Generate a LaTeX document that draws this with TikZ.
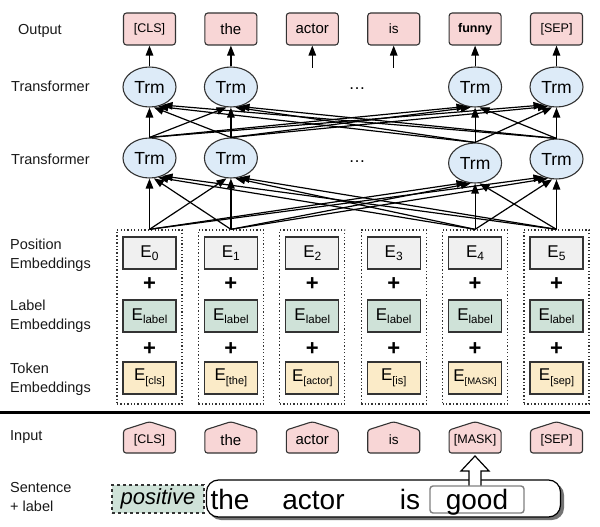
\documentclass[tikz,border=0pt]{standalone}
\usepackage{fontspec}
\setmainfont{Liberation Sans}
\usetikzlibrary{arrows.meta,shapes.geometric,calc}
\definecolor{pinkf}{HTML}{F8D6D6}
\definecolor{trmf}{HTML}{DDEBF8}
\definecolor{posf}{HTML}{F0F0F0}
\definecolor{labf}{HTML}{CFE2D8}
\definecolor{tokf}{HTML}{FBEBC8}
\definecolor{bordc}{HTML}{333333}
\newcommand{\fsz}[2]{\fontsize{#1}{#2}\selectfont}
\newcommand{\Esb}[2]{{\fsz{17}{20}E}\raisebox{-3.5pt}{\fsz{#1}{#1}#2}}
\begin{document}
\begin{tikzpicture}[x=1pt,y=-1pt,
  lbl/.style={anchor=west,inner sep=0pt,align=left,font=\fsz{14.5}{19},text=black!90},
  outbox/.style={draw=bordc,fill=pinkf,rounded corners=3pt,minimum width=52pt,minimum height=32pt,line width=1.1pt,inner sep=0pt},
  trm/.style={ellipse,draw=bordc,fill=trmf,minimum width=53pt,minimum height=40pt,line width=1.1pt,inner sep=0pt,font=\fsz{17.5}{20}},
  ebox/.style={draw=bordc,line width=1.1pt,minimum width=53pt,minimum height=32pt,inner sep=0pt},
  colbox/.style={draw=bordc,dash pattern=on 1.3pt off 2.1pt,line width=1.3pt,minimum width=65pt,minimum height=174pt,inner sep=0pt},
  plus/.style={font=\bfseries\fsz{22}{22},inner sep=0pt},
  arr/.style={-{Triangle[length=10pt,width=7.5pt]},line width=1.2pt,draw=black},
  pent/.style={draw=bordc,fill=pinkf,line width=1.1pt,rounded corners=2.5pt},
  dotsn/.style={font=\fsz{17}{17},inner sep=0pt}
]
\useasboundingbox (0,0) rectangle (600,527);

% left labels
\node[lbl] (tOut) at (18,31) {Output};
\node[lbl] (tTr1) at (11,86) {Transformer};
\node[lbl] (tTr2) at (11,159) {Transformer};
\node[lbl] (tPos) at (10,255.5) {Position\\Embeddings};
\node[lbl] (tLab) at (10,316.5) {Label\\Embeddings};
\node[lbl] (tTok) at (10,379.5) {Token\\Embeddings};
\node[lbl] (tIn) at (10,437) {Input};
\node[lbl] (tSen) at (10,497) {Sentence\\+ label};

% columns
\def\cxa{149.5}\def\cxb{230.9}\def\cxc{312.3}\def\cxd{393.7}\def\cxe{475.1}\def\cxf{556.5}

% output boxes
\node[outbox,font=\fsz{12.5}{14}] (o0) at (\cxa,29) {[CLS]};
\node[outbox,font=\fsz{15}{17}] (o1) at (\cxb,29) {the};
\node[outbox,font=\fsz{15}{17}] (o2) at (\cxc,29) {actor};
\node[outbox,font=\fsz{13.5}{15}] (o3) at (\cxd,29) {is};
\node[outbox,font=\bfseries\fsz{12.5}{14}] (o4) at (\cxe,29) {funny};
\node[outbox,font=\fsz{12.5}{14}] (o5) at (\cxf,29) {[SEP]};

% transformer nodes
\node[trm] (u0) at (\cxa,87) {Trm};
\node[trm] (u1) at (\cxb,87) {Trm};
\node[trm] (u4) at (\cxe,87) {Trm};
\node[trm] (u5) at (\cxf,87) {Trm};
\node[trm] (l0) at (\cxa,158) {Trm};
\node[trm] (l1) at (\cxb,158) {Trm};
\node[trm] (l4) at (\cxe,163) {Trm};
\node[trm] (l5) at (\cxf,159) {Trm};
\node[dotsn] (du) at (357,89) {\ldots};
\node[dotsn] (dl) at (357,162) {\ldots};

% embedding columns
\foreach \i/\x/\tk/\ts in {0/\cxa/{[cls]}/11,1/\cxb/{[the]}/11,2/\cxc/{[actor]}/10.5,3/\cxd/{[is]}/11,4/\cxe/{[MASK]}/9.5,5/\cxf/{[sep]}/11}{
  \node[colbox] (c\i) at (\x,317) {};
  \node[ebox,fill=posf] (ep\i) at (\x,253) {\Esb{12}{\i}};
  \node[plus] (pa\i) at (\x,284) {+};
  \node[ebox,fill=labf] (el\i) at (\x,316) {\Esb{11.5}{label}};
  \node[plus] (pb\i) at (\x,349) {+};
  \node[ebox,fill=tokf] (et\i) at (\x,378) {\Esb{\ts}{\tk}};
}

% output arrows
\draw[arr] (u0.north) -- (o0.south);
\draw[arr] (u1.north) -- (o1.south);
\draw[arr] (u4.north) -- (o4.south);
\draw[arr] (u5.north) -- (o5.south);
\coordinate (a2) at (\cxc,68);
\coordinate (a3) at (\cxd,68);
\draw[arr] (a2) -- (o2.south);
\draw[arr] (a3) -- (o3.south);

% connections
\foreach \s/\sp in {0/0,1/1,4/2,5/3}{
  \foreach \t/\tp in {0/0,1/1,4/2,5/3}{
    \pgfmathtruncatemacro{\ang}{270+12*(\sp-\tp)}
    \draw[arr] (l\s.north) -- (u\t.\ang);
    \draw[arr] (c\s.north) -- (l\t.\ang);
  }
}

% separator
\coordinate (sepL) at (0,412.5);
\coordinate (sepR) at (590,412.5);
\draw[line width=2.6pt] (sepL) -- (sepR);

% input pentagons
\foreach \i/\x/\w/\f in {0/\cxa/{[CLS]}/12.5,1/\cxb/{the}/15,2/\cxc/{actor}/15,3/\cxd/{is}/13.5,4/\cxe/{[MASK]}/12.5,5/\cxf/{[SEP]}/12.5}{
  \draw[pent] (\x-26,453) -- (\x-26,430) -- (\x,421.7) -- (\x+26,430) -- (\x+26,453) -- cycle;
  \node[inner sep=0pt,font=\fsz{\f}{\f}] (in\i) at (\x,440) {\w};
}

% sentence + label
\node[draw=bordc,dashed,fill=labf,line width=1.1pt,minimum width=92pt,minimum height=28pt,inner sep=0pt,font=\itshape\fsz{22}{24}] (pos) at (158,499) {positive};
\fill[black!55,rounded corners=12pt] (209,483) rectangle (564,520);
\node[draw=black,fill=white,line width=1.2pt,rounded corners=12pt,minimum width=354pt,minimum height=37pt,inner sep=0pt] (sent) at (383.5,498.5) {};
\node[anchor=base,inner sep=0pt,font=\fsz{28}{30}] (w1) at (230,509) {the};
\node[anchor=base,inner sep=0pt,font=\fsz{28}{30}] (w2) at (313.5,509) {actor};
\node[anchor=base,inner sep=0pt,font=\fsz{28}{30}] (w3) at (410,509) {is};
\draw[fill=white,draw=black,line width=1.2pt] (469,488) -- (469,471) -- (461,471) -- (475,456) -- (489,471) -- (481,471) -- (481,488);
\node[draw=black!50,fill=white,line width=1.4pt,rounded corners=3pt,minimum width=94pt,minimum height=27pt,inner sep=0pt] (good) at (477,499.5) {};
\node[anchor=base,inner sep=0pt,font=\fsz{28}{30}] (w4) at (477,509) {good};
\end{tikzpicture}
\end{document}
